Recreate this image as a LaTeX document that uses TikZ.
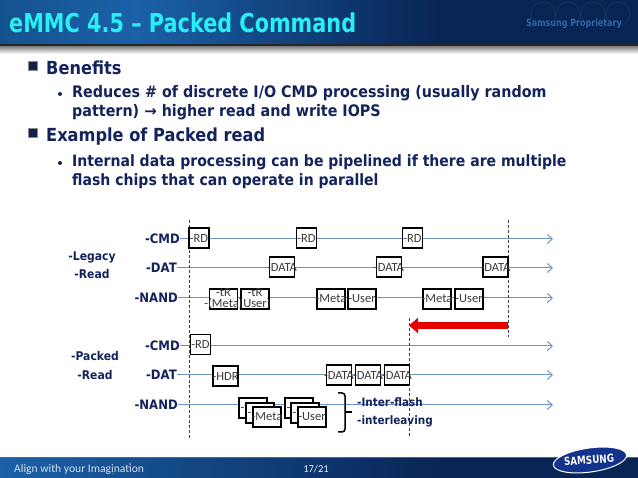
\documentclass[tikz,border=0pt]{standalone}
\usepackage{fontspec}
\setmainfont{DejaVu Sans}
\newfontfamily\hfontbase[FakeStretch=0.8]{DejaVu Sans}
\newfontfamily\bodyfontbase[FakeStretch=0.9]{DejaVu Sans}
\newcommand{\hfont}{\hfontbase\bfseries}
\newcommand{\bodyfont}{\bodyfontbase\bfseries}
\newfontfamily\cfont{Carlito}
\newcommand{\tx}[1]{\makebox[0pt][c]{#1}}
\usetikzlibrary{arrows.meta,shapes.geometric}
\definecolor{navy}{HTML}{14235C}
\definecolor{rowblue}{HTML}{6C93C4}
\definecolor{boxtext}{HTML}{3A3A3A}
\definecolor{bandleft}{RGB}{20,82,142}
\definecolor{bandmid}{RGB}{27,97,168}
\definecolor{banddark}{RGB}{8,36,84}
\definecolor{titlecyan}{RGB}{40,238,245}
\definecolor{propblue}{RGB}{42,104,168}
\definecolor{logoblue}{RGB}{18,50,140}
\tikzset{
  x=1pt,y=-1pt,
  timeline/.style={draw=rowblue,line width=1pt,-{Straight Barb[length=5pt,width=9pt,line width=1pt]}},
  guide/.style={draw=black!75,line width=.8pt,densely dashed},
  slot/.style={draw=black,line width=1.4pt,fill=white,inner sep=0pt,font=\cfont\fontsize{12.5}{10.5}\selectfont,text=boxtext,align=center},
  rowlabel/.style={anchor=east,inner sep=0pt,text=navy,font=\bodyfont\fontsize{13}{15}\selectfont,text height=10pt,text depth=1pt},
  grouplabel/.style={inner sep=0pt,text=navy,font=\bodyfont\fontsize{12}{15}\selectfont,text height=10pt,text depth=3pt},
  bullettext/.style={anchor=base west,inner sep=0pt,text=navy,font=\bodyfont\fontsize{18}{20}\selectfont},
  subtext/.style={anchor=base west,inner sep=0pt,text=navy,font=\bodyfont\fontsize{15.9}{18}\selectfont},
  squarebul/.style={inner sep=0pt,minimum size=9.5pt,fill=navy!85!black,draw=black!45,line width=.6pt},
  dotbul/.style={circle,inner sep=0pt,minimum size=4pt,fill=navy},
}
\begin{document}
\begin{tikzpicture}
\useasboundingbox (0,0) rectangle (638,478);
\fill[white] (0,0) rectangle (638,478);
% header band
\shade[shading=axis,shading angle=90,left color=bandleft,right color=bandmid] (0,0) rectangle (135,45);
\shade[shading=axis,shading angle=90,left color=bandmid,right color=banddark] (135,0) rectangle (440,45);
\fill[banddark] (440,0) rectangle (638,45);
\fill[black!85] (0,44) rectangle (638,47);
\shade[top color=black!45,bottom color=white] (0,47) rectangle (638,54);
\foreach \cx in {543,568,593,618}{\draw[white,opacity=.05,line width=1.2pt] (\cx,14) circle (12);}
\node[anchor=base west,inner sep=0pt,text=titlecyan,font=\hfont\fontsize{26}{28}\selectfont] (title) at (9,33) {eMMC 4.5 – Packed Command};
\node[anchor=east,inner sep=0pt,text=propblue,font=\hfont\fontsize{10}{11}\selectfont] (prop) at (622,24) {Samsung Proprietary};
% footer band
\shade[shading=axis,shading angle=90,left color=bandmid,right color=banddark] (0,458) rectangle (450,478);
\fill[banddark] (450,458) rectangle (638,478);
\fill[black!30!rowblue] (0,457) rectangle (638,458.5);
\node[anchor=base west,inner sep=0pt,text=white!70!rowblue,font=\cfont\fontsize{11.6}{13}\selectfont] (align) at (14,473) {Align with your Imagination};
\fill[violet!60!white] (130,464) circle (1.4);
\fill[green!70!black] (113,473.5) circle (1.2);
\node[inner sep=0pt,text=white!85!rowblue,font=\cfont\fontsize{10.5}{12}\selectfont] (page) at (316,469) {17/21};
\node[ellipse,rotate=8,minimum width=74pt,minimum height=24pt,inner sep=0pt,fill=logoblue,draw=white,line width=1pt] (logo) at (590,460) {};
\node[rotate=4,inner sep=0pt,text=white,font=\hfont\fontsize{11}{12}\selectfont] (logotext) at (589,460) {SAMSUNG};
% bullets
\node[squarebul] (b1) at (33,66) {};
\node[bullettext] (t1) at (46,75) {Benefits};
\node[dotbul] (d1) at (60,94) {};
\node[subtext] (t2) at (72,98) {Reduces \# of discrete I/O CMD processing (usually random};
\node[subtext] (t3) at (72,117) {pattern) {\normalfont\bfseries\fontsize{15}{16}\selectfont →} higher read and write IOPS};
\node[squarebul] (b2) at (33,133) {};
\node[bullettext] (t4) at (46,142) {Example of Packed read};
\node[dotbul] (d2) at (60,163) {};
\node[subtext,font=\bodyfont\fontsize{15.6}{18}\selectfont] (t5) at (72,167) {Internal data processing can be pipelined if there are multiple};
\node[subtext,font=\bodyfont\fontsize{15.6}{18}\selectfont] (t6) at (72,186) {flash chips that can operate in parallel};
% row labels
\node[rowlabel] (cmdA) at (180,239) {-CMD};
\node[rowlabel] (datA) at (177,268) {-DAT};
\node[rowlabel] (nandA) at (178,298) {-NAND};
\node[rowlabel] (cmdB) at (180,346) {-CMD};
\node[rowlabel] (datB) at (177,375) {-DAT};
\node[rowlabel] (nandB) at (178,405) {-NAND};
\node[grouplabel] (legacy1) at (92,257) {-Legacy};
\node[grouplabel] (legacy2) at (92,275) {-Read};
\node[grouplabel] (packed1) at (95,357) {-Packed};
\node[grouplabel] (packed2) at (95,376) {-Read};
% timelines
\coordinate (endCmdA) at (553,239);
\coordinate (endDatA) at (553,268);
\coordinate (endNandA) at (553,298);
\coordinate (endCmdB) at (553,346);
\coordinate (endDatB) at (553,375);
\coordinate (endNandB) at (553,405);
\foreach \a/\b in {cmdA/endCmdA,datA/endDatA,nandA/endNandA,cmdB/endCmdB,datB/endDatB,nandB/endNandB}
  \draw[timeline] (\a.east) -- (\b);
% guides
\coordinate (g1t) at (189,220); \coordinate (g1b) at (189,438);
\coordinate (g2t) at (508,220); \coordinate (g2b) at (508,337);
\coordinate (g3t) at (409,318); \coordinate (g3b) at (409,438);
\draw[guide] (g1t) -- (g1b);
\draw[guide] (g2t) -- (g2b);
\draw[guide] (g3t) -- (g3b);
% legacy boxes
\node[slot,minimum width=20pt,minimum height=20pt] (rd1) at (199,238) {\tx{-RD}};
\node[slot,minimum width=20pt,minimum height=20pt] (rd2) at (306.5,238) {\tx{-RD}};
\node[slot,minimum width=20pt,minimum height=20pt] (rd3) at (412.5,238) {\tx{-RD}};
\node[slot,minimum width=25pt,minimum height=20pt] (da1) at (282,267) {\tx{-DATA}};
\node[slot,minimum width=25pt,minimum height=20pt] (da2) at (389,267) {\tx{-DATA}};
\node[slot,minimum width=25pt,minimum height=20pt] (da3) at (495.5,267) {\tx{-DATA}};
\node[slot,minimum width=28pt,minimum height=20pt] (tr1) at (223.5,299) {\tx{-tR}\\\tx{-(Meta)}};
\node[slot,minimum width=28pt,minimum height=20pt] (tr2) at (255,299) {\tx{-tR}\\\tx{(User)}};
\node[slot,minimum width=28pt,minimum height=20pt] (m1) at (331,299) {\tx{-Meta}};
\node[slot,minimum width=28pt,minimum height=20pt] (u1) at (362,299) {\tx{-User}};
\node[slot,minimum width=28pt,minimum height=20pt] (m2) at (437,299) {\tx{-Meta}};
\node[slot,minimum width=28pt,minimum height=20pt] (u2) at (469,299) {\tx{-User}};
% red arrow
\coordinate (redS) at (508,325.5); \coordinate (redE) at (409,325.5);
\draw[draw=red!90!black,line width=7pt,-{Triangle[length=9pt,width=15pt]}] (redS) -- (redE);
% packed boxes
\node[slot,minimum width=20pt,minimum height=20pt] (rd4) at (200.5,344.5) {\tx{-RD}};
\node[slot,minimum width=25pt,minimum height=20pt] (hdr) at (225.5,376) {\tx{-HDR}};
\node[slot,minimum width=25pt,minimum height=20pt] (dp1) at (339,375) {\tx{-DATA}};
\node[slot,minimum width=25pt,minimum height=20pt] (dp2) at (368,375) {\tx{-DATA}};
\node[slot,minimum width=25pt,minimum height=20pt] (dp3) at (397,375) {\tx{-DATA}};
\node[slot,minimum width=28pt,minimum height=20pt] (sm1) at (253,408) {\makebox[0pt][l]{\hspace{-12.5pt}-t}};
\node[slot,minimum width=28pt,minimum height=20pt] (sm2) at (260,413) {\makebox[0pt][l]{\hspace{-12.5pt}-t}};
\node[slot,minimum width=28pt,minimum height=20pt] (sm3) at (267,417) {\tx{-Meta}};
\node[slot,minimum width=28pt,minimum height=20pt] (su1) at (299,408) {\makebox[0pt][l]{\hspace{-12.5pt}-t}};
\node[slot,minimum width=28pt,minimum height=20pt] (su2) at (305,413) {\makebox[0pt][l]{\hspace{-12.5pt}-t}};
\node[slot,minimum width=28pt,minimum height=20pt] (su3) at (312,417) {\tx{-User}};
% bracket
\coordinate (brT) at (338,393); \coordinate (brB) at (338,432);
\coordinate (brM) at (345,412); \coordinate (brTip) at (352,412);
\draw[black,line width=1.5pt,rounded corners=3pt] (brT) -- (brT-|brM) -- (brB-|brM) -- (brB);
\draw[black,line width=1.5pt] (brM) -- (brTip);
\node[anchor=west,grouplabel,font=\bodyfont\fontsize{11.6}{14}\selectfont] (inter1) at (357,403) {-Inter-flash};
\node[anchor=west,grouplabel,font=\bodyfont\fontsize{11.6}{14}\selectfont] (inter2) at (357,421) {-interleaving};
\end{tikzpicture}
\end{document}
